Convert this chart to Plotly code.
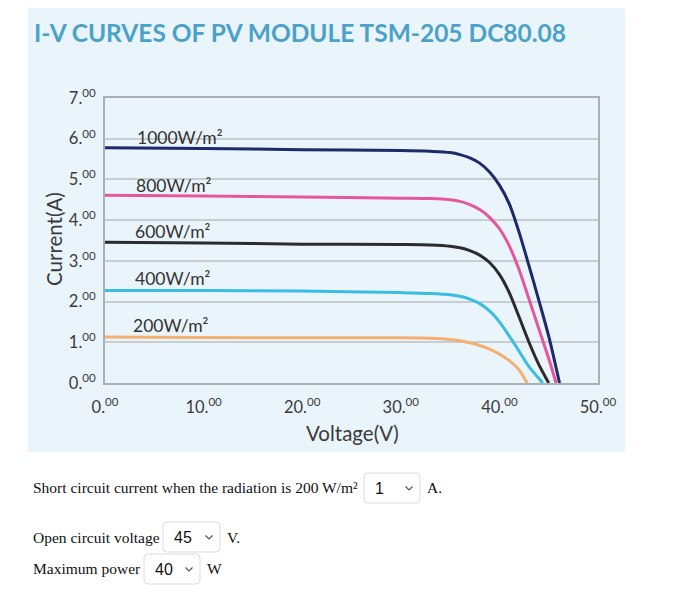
import plotly.graph_objects as go

# ---------------- data ----------------
V_1000 = [0, 10, 20, 30, 33, 35, 36, 37, 38, 39, 40, 41, 42, 43, 44, 45, 46.1]
I_1000 = [5.78, 5.76, 5.73, 5.71, 5.69, 5.66, 5.61, 5.53, 5.40, 5.18, 4.86, 4.40, 3.70, 2.88, 2.03, 1.15, 0]

V_800 = [0, 10, 20, 30, 33, 35, 36, 37, 38, 39, 40, 41, 42, 43, 44, 45, 45.75]
I_800 = [4.61, 4.59, 4.57, 4.54, 4.53, 4.50, 4.46, 4.38, 4.26, 4.07, 3.79, 3.37, 2.78, 2.06, 1.33, 0.60, 0]

V_600 = [0, 10, 20, 30, 33, 35, 36, 37, 38, 39, 40, 41, 42, 43, 44, 45.0]
I_600 = [3.46, 3.44, 3.41, 3.40, 3.39, 3.36, 3.32, 3.25, 3.14, 2.96, 2.67, 2.22, 1.62, 1.00, 0.45, 0]

V_400 = [0, 10, 20, 30, 33, 35, 36, 37, 38, 39, 40, 41, 42, 43, 44.4]
I_400 = [2.27, 2.27, 2.26, 2.22, 2.20, 2.17, 2.13, 2.06, 1.95, 1.77, 1.50, 1.15, 0.78, 0.40, 0]

V_200 = [0, 10, 20, 30, 33, 35, 36, 37, 38, 39, 40, 41, 42, 42.8]
I_200 = [1.13, 1.12, 1.11, 1.11, 1.10, 1.07, 1.04, 0.99, 0.92, 0.83, 0.71, 0.55, 0.32, 0]

curve_labels = ["1000W/m²", "800W/m²", "600W/m²", "400W/m²", "200W/m²"]
x_ticks = [0, 10, 20, 30, 40, 50]
y_ticks = [0, 1, 2, 3, 4, 5, 6, 7]

title_text = "I-V CURVES OF PV MODULE TSM-205 DC80.08"
x_title = "Voltage(V)"
y_title = "Current(A)"

q_texts = ["Short circuit current when the radiation is 200 W/m²", "Open circuit voltage", "Maximum power"]
q_answers = ["1", "45", "40"]
q_units = ["A.", "V.", "W"]

# ---------------- layout helpers ----------------
W, H = 700, 596
ML, MR, MT, MB = 105, 102, 98, 213
PW, PH = W - ML - MR, H - MT - MB


def px(x):
    return (x - ML) / PW


def py(y):
    return (H - MB - y) / PH


colors = ["#1d2a6b", "#e4569e", "#2b2b2e", "#3bbde3", "#f3b070"]
series = [(V_1000, I_1000), (V_800, I_800), (V_600, I_600), (V_400, I_400), (V_200, I_200)]

fig = go.Figure()
for (vv, ii), c, name in zip(series, colors, curve_labels):
    fig.add_trace(go.Scatter(x=vv, y=ii, mode="lines", name=name,
                             line=dict(color=c, width=3, shape="spline", smoothing=0.8),
                             hoverinfo="skip"))

panel = "#eaf4fb"
chart_font = "Lato, 'Open Sans', sans-serif"

fig.update_layout(
    width=W, height=H,
    margin=dict(l=ML, r=MR, t=MT, b=MB),
    paper_bgcolor="white",
    plot_bgcolor=panel,
    showlegend=False,
    font=dict(family=chart_font, color="#3a3a3a", size=16),
)

fig.update_xaxes(range=[0, 50], tickvals=x_ticks,
                 ticktext=[f"{v}.<sup>00</sup>" for v in x_ticks],
                 showgrid=False, zeroline=False, showline=True, mirror=True,
                 linecolor="#aab0b6", linewidth=2, ticks="",
                 tickfont=dict(size=16.5, color="#3a3a3a"), ticklabelstandoff=8)
fig.update_yaxes(range=[0, 7], tickvals=y_ticks,
                 ticktext=[f"{v}.<sup>00</sup>" for v in y_ticks],
                 showgrid=True, gridcolor="#c8cdd2", gridwidth=1.5,
                 zeroline=False, showline=True, mirror=True,
                 linecolor="#aab0b6", linewidth=2, ticks="",
                 tickfont=dict(size=16.5, color="#3a3a3a"), ticklabelstandoff=4)

shapes = [dict(type="rect", xref="paper", yref="paper", layer="below",
               x0=px(28), x1=px(625), y0=py(452), y1=py(8),
               fillcolor=panel, line=dict(width=0))]

ann = []
ann.append(dict(text=title_text, xref="paper", yref="paper", x=px(32), y=py(33),
                xanchor="left", yanchor="middle", showarrow=False,
                font=dict(family=chart_font, size=24.5, color="#4aa2c9", weight="bold")))
ann.append(dict(text=y_title, xref="paper", yref="paper", x=px(54), y=py(239),
                xanchor="center", yanchor="middle", textangle=-90, showarrow=False,
                font=dict(family=chart_font, size=20.5, color="#3a3a3a")))
ann.append(dict(text=x_title, xref="paper", yref="paper", x=px(352), y=py(433),
                xanchor="center", yanchor="middle", showarrow=False,
                font=dict(family=chart_font, size=20.5, color="#3a3a3a")))

label_pos = [(135, 137), (134, 185), (133, 231), (133, 278), (131, 325)]
for lab, (lx, ly) in zip(curve_labels, label_pos):
    ann.append(dict(text=lab, xref="paper", yref="paper", x=px(lx), y=py(ly),
                    xanchor="left", yanchor="middle", showarrow=False,
                    font=dict(family=chart_font, size=17.5, color="#333333")))

# question lines
serif = "'Liberation Serif', 'Times New Roman', serif"
sans = "'Liberation Sans', Arial, sans-serif"
q_text_x = [31, 31, 31]
q_y = [487, 537, 568]
box_x = [(364, 420), (163, 220), (144, 200)]
box_y = [(473, 503), (522, 552), (554, 584)]
unit_x = [425, 225, 205]


def rrect(x0, y0, x1, y1, r=4):
    X0, X1 = px(x0), px(x1)
    Y0, Y1 = py(y0), py(y1)
    rx, ry = r / PW, r / PH
    return (f"M {X0+rx},{Y0} L {X1-rx},{Y0} Q {X1},{Y0} {X1},{Y0-ry} "
            f"L {X1},{Y1+ry} Q {X1},{Y1} {X1-rx},{Y1} L {X0+rx},{Y1} "
            f"Q {X0},{Y1} {X0},{Y1+ry} L {X0},{Y0-ry} Q {X0},{Y0} {X0+rx},{Y0} Z")


for i in range(3):
    ann.append(dict(text=q_texts[i], xref="paper", yref="paper", x=px(q_text_x[i]), y=py(q_y[i]),
                    xanchor="left", yanchor="middle", showarrow=False,
                    font=dict(family=serif, size=15.5, color="#111111")))
    bx0, bx1 = box_x[i]
    by0, by1 = box_y[i]
    shapes.append(dict(type="path", xref="paper", yref="paper", path=rrect(bx0, by0, bx1, by1),
                       fillcolor="white", line=dict(color="#dcdcdc", width=1)))
    ann.append(dict(text=q_answers[i], xref="paper", yref="paper", x=px(bx0 + 9), y=py((by0 + by1) / 2),
                    xanchor="left", yanchor="middle", showarrow=False,
                    font=dict(family=sans, size=16, color="#111111")))
    cx, cy = bx1 - 11, (by0 + by1) / 2
    shapes.append(dict(type="path", xref="paper", yref="paper",
                       path=f"M {px(cx-3.5)},{py(cy-1.5)} L {px(cx)},{py(cy+2)} L {px(cx+3.5)},{py(cy-1.5)}",
                       line=dict(color="#555555", width=1.2)))
    ann.append(dict(text=q_units[i], xref="paper", yref="paper", x=px(unit_x[i]), y=py(q_y[i]),
                    xanchor="left", yanchor="middle", showarrow=False,
                    font=dict(family=serif, size=15.5, color="#111111")))

fig.update_layout(shapes=shapes, annotations=ann)
fig.write_html("out.html")
